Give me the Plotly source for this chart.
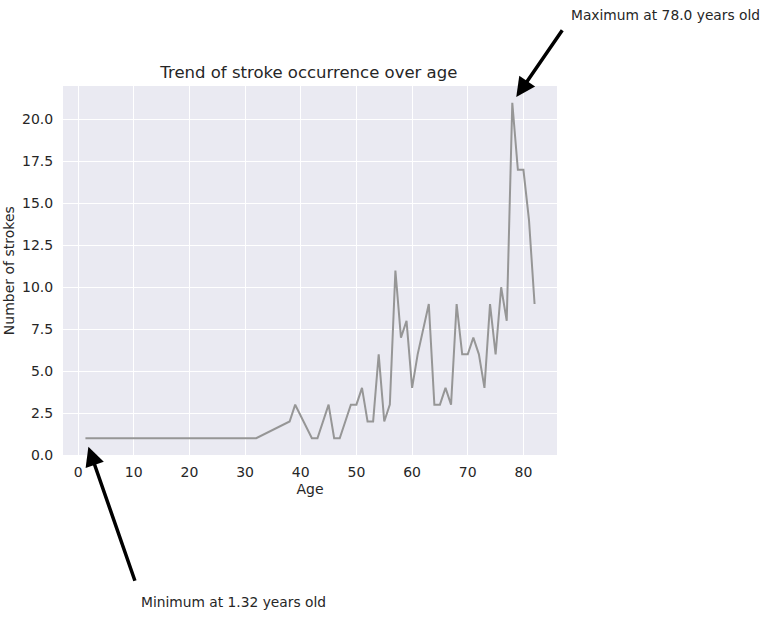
import plotly.graph_objects as go

# stroke counts per age
ages = [1.32, 14, 32, 38, 39, 42, 43, 45, 46, 47, 48, 49, 50, 51, 52, 53, 54,
        55, 56, 57, 58, 59, 60, 61, 63, 64, 65, 66, 67, 68, 69, 70, 71, 72,
        73, 74, 75, 76, 77, 78, 79, 80, 81, 82]
strokes = [1, 1, 1, 2, 3, 1, 1, 3, 1, 1, 2, 3, 3, 4, 2, 2, 6,
           2, 3, 11, 7, 8, 4, 6, 9, 3, 3, 4, 3, 9, 6, 6, 7, 6,
           4, 9, 6, 10, 8, 21, 17, 17, 14, 9]

y_ticks = [0, 2.5, 5, 7.5, 10, 12.5, 15, 17.5, 20]

i_max = strokes.index(max(strokes))
i_min = strokes.index(min(strokes))

FONT = "DejaVu Sans"
TXT = "#262626"

fig = go.Figure()
fig.add_trace(go.Scatter(
    x=ages, y=strokes,
    mode='lines',
    line=dict(color='#969696', width=2),
    showlegend=False,
))

# arrows (no text) pointing at max / min
fig.add_annotation(x=ages[i_max], y=strokes[i_max], xref='x', yref='y',
                   ax=51, ay=-74, text='', showarrow=True,
                   arrowhead=2, arrowsize=1.1, arrowwidth=3.5,
                   arrowcolor='black', standoff=7)
fig.add_annotation(x=ages[i_min], y=strokes[i_min], xref='x', yref='y',
                   ax=50, ay=144, text='', showarrow=True,
                   arrowhead=2, arrowsize=1.1, arrowwidth=3.5,
                   arrowcolor='black', standoff=9)

# labels next to the arrow tails
fig.add_annotation(x=ages[i_max], y=strokes[i_max], xref='x', yref='y',
                   xshift=57, yshift=88, xanchor='left', yanchor='middle',
                   text=f"Maximum at {float(ages[i_max])} years old",
                   showarrow=False, font=dict(family=FONT, size=13.8, color=TXT))
fig.add_annotation(x=ages[i_min], y=strokes[i_min], xref='x', yref='y',
                   xshift=54, yshift=-164, xanchor='left', yanchor='middle',
                   text=f"Minimum at {ages[i_min]} years old",
                   showarrow=False, font=dict(family=FONT, size=13.8, color=TXT))

# y axis title as a rotated annotation (axis title overlaps ticks without automargin)
fig.add_annotation(x=-0.110, y=0.5, xref='paper', yref='paper',
                   xanchor='center', yanchor='middle', textangle=-90,
                   text='Number of strokes', showarrow=False,
                   font=dict(family=FONT, size=14, color=TXT))

fig.update_layout(
    width=776, height=620,
    paper_bgcolor='white',
    plot_bgcolor='#EAEAF2',
    margin=dict(l=63, r=219, t=86, b=165),
    font=dict(family=FONT, color=TXT),
    title=dict(text="Trend of stroke occurrence over age",
               x=0.398, xanchor='center', y=0.884, yanchor='middle',
               font=dict(family=FONT, size=16.5, color=TXT)),
    xaxis=dict(
        range=[-2.71, 86.03], dtick=10, tick0=0, automargin=False,
        showgrid=True, gridcolor='white', gridwidth=1.3,
        zeroline=False, showline=False,
        ticks='outside', ticklen=4, tickcolor='rgba(0,0,0,0)',
        tickfont=dict(family=FONT, size=14, color=TXT),
        title=dict(text='Age', standoff=5,
                   font=dict(family=FONT, size=14, color=TXT)),
    ),
    yaxis=dict(
        range=[0, 22], tickvals=y_ticks, tickformat='.1f', automargin=False,
        showgrid=True, gridcolor='white', gridwidth=1.3,
        zeroline=False, showline=False,
        ticks='outside', ticklen=6, tickcolor='rgba(0,0,0,0)',
        tickfont=dict(family=FONT, size=14, color=TXT),
    ),
)

# drop the browser's default 8px body margin so the figure sits at (0, 0)
fig.write_html("out.html", config={'displayModeBar': False},
               post_script="document.body.style.margin='0';")
